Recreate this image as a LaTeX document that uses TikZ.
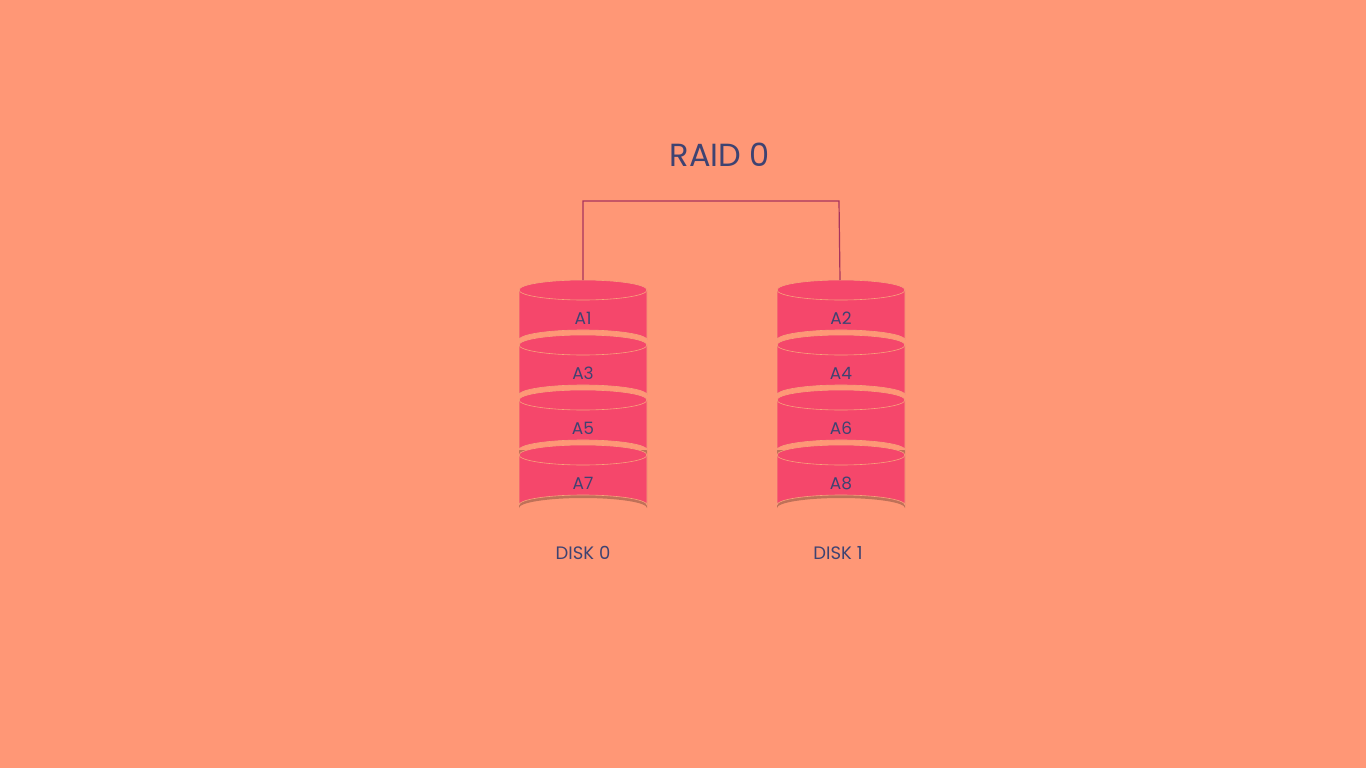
\documentclass[tikz,border=0pt]{standalone}
\usepackage{fontspec}
\setmainfont{Poppins}
\usetikzlibrary{shadows}
\definecolor{bg}{HTML}{FF9776}
\definecolor{cyl}{HTML}{F5476B}
\definecolor{txt}{HTML}{3E4372}
\definecolor{ln}{HTML}{A8345E}
\definecolor{rim}{HTML}{F7A27A}
\tikzset{
  lbl/.style={text=txt,font=\fontsize{17}{17}\selectfont},
  disk/.style={text=txt,font=\fontsize{18}{18}\selectfont},
}
\newcommand{\seg}[3]{% cx, top y, label
  \fill[cyl,draw=rim,line width=0.6pt] (#1-64,#2) -- (#1-64,#2+50) arc[start angle=180,end angle=360,x radius=64,y radius=10] -- (#1+64,#2) -- cycle;
  \fill[cyl,draw=rim,line width=0.6pt] (#1,#2) ellipse[x radius=64,y radius=10];
}
\begin{document}
\begin{tikzpicture}[x=1pt,y=-1pt]
\fill[bg] (0,0) rectangle (1366,768);
\useasboundingbox (0,0) rectangle (1366,768);
\foreach \cx in {583,841}{
  \fill[black,opacity=0.25] (\cx-64,450) -- (\cx-64,508) arc[start angle=180,end angle=360,x radius=64,y radius=10] -- (\cx+64,450) -- cycle;
  \foreach \t in {455,400,345,290}{\seg{\cx}{\t}{}}
}
\node[lbl] (a1) at (583,318) {A1};
\node[lbl] (a3) at (583,373) {A3};
\node[lbl] (a5) at (583,428) {A5};
\node[lbl] (a7) at (583,483) {A7};
\node[lbl] (a2) at (841,318) {A2};
\node[lbl] (a4) at (841,373) {A4};
\node[lbl] (a6) at (841,428) {A6};
\node[lbl] (a8) at (841,483) {A8};
\node[disk] (d0) at (583,553) {DISK 0};
\node[disk] (d1) at (838,553) {DISK 1};
\node[text=txt,font=\fontsize{32}{32}\selectfont] (title) at (720,155) {RAID 0};
\coordinate (t0) at (583,280);
\coordinate (t1) at (840,280);
\draw[ln,line width=1.2pt] (t0) -- (583,201) -- (839,201) -- (t1);
\end{tikzpicture}
\end{document}
